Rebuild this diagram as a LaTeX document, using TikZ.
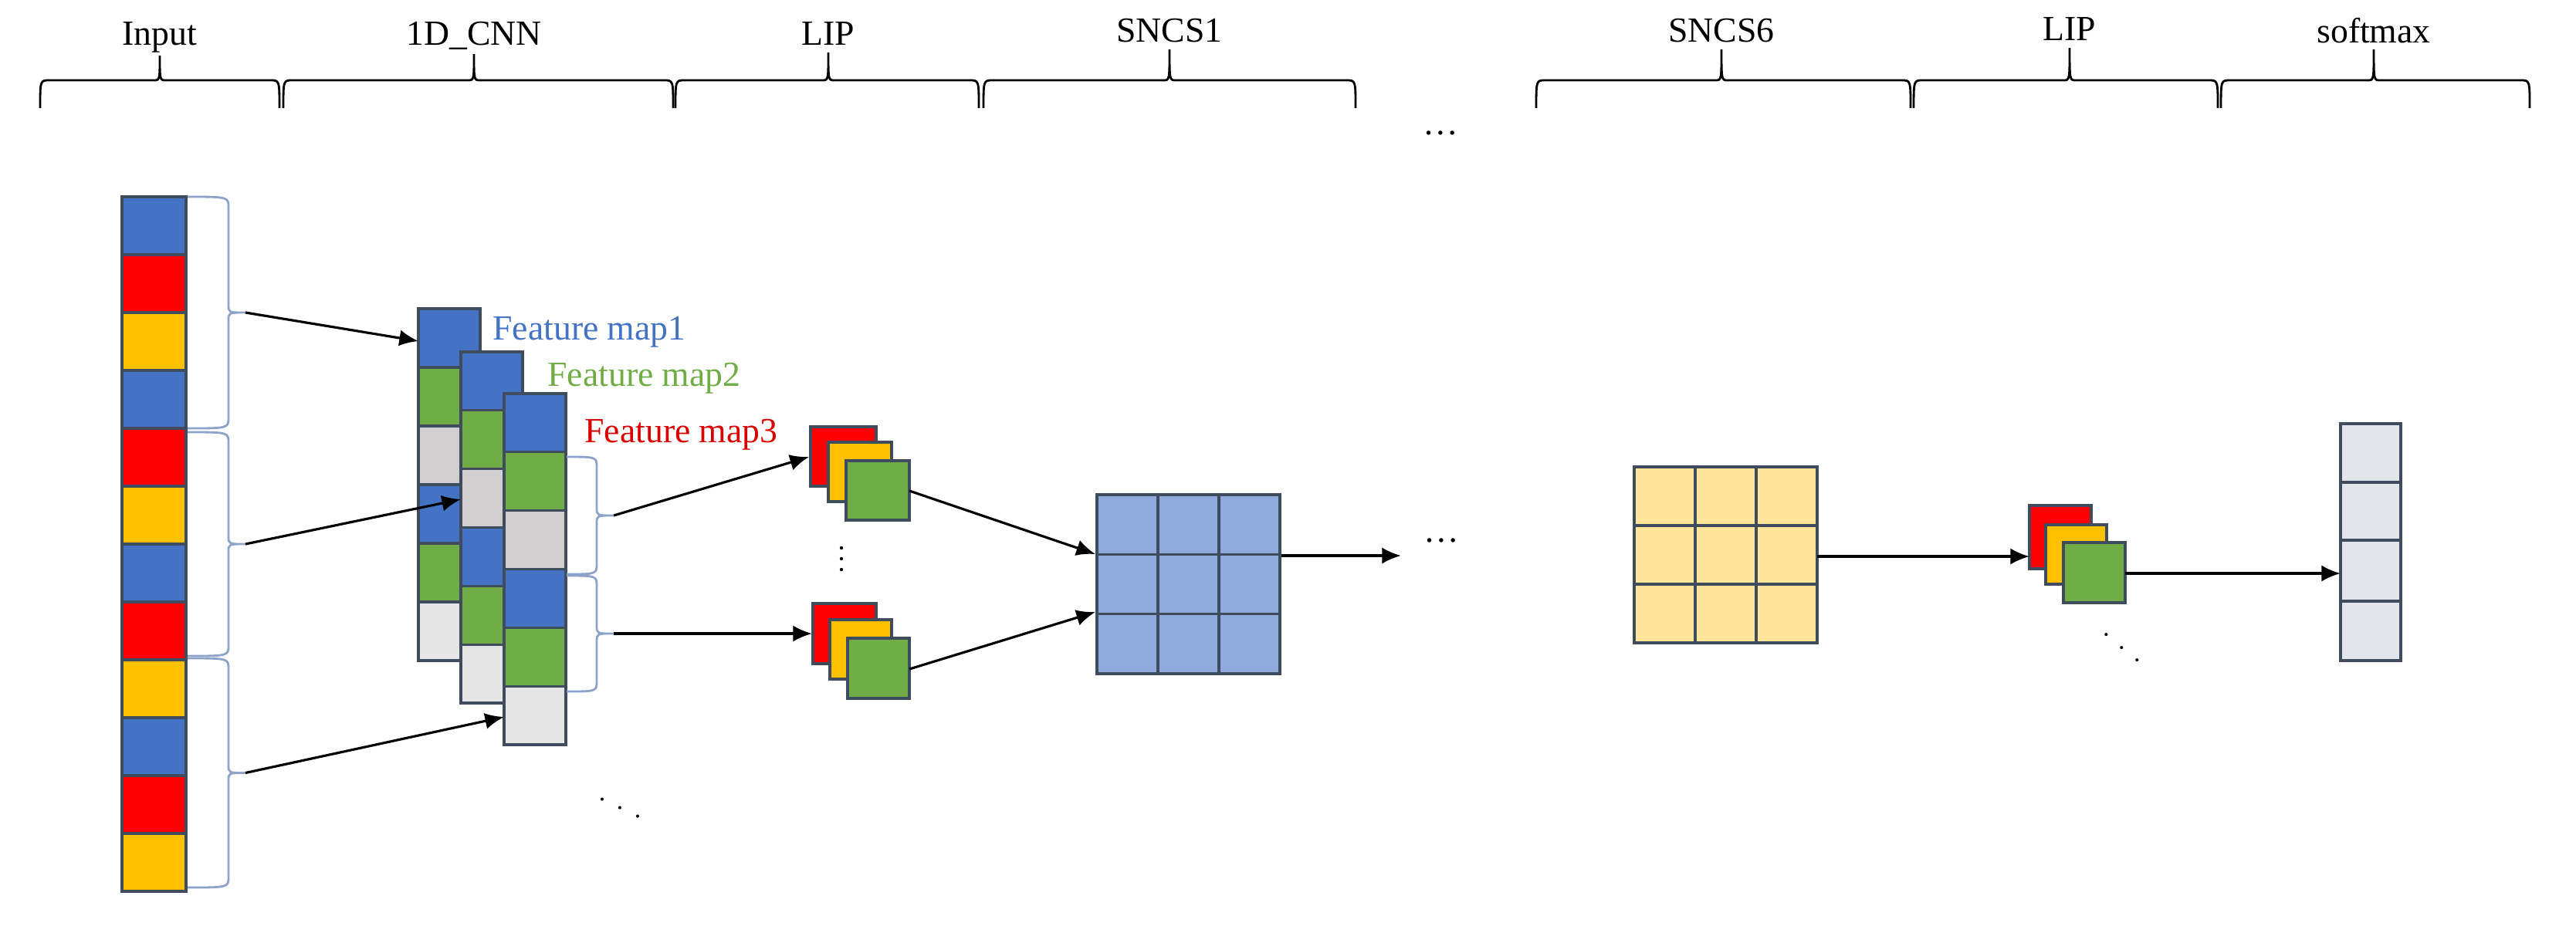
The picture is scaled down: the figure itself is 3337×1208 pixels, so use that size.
\documentclass[tikz,border=0pt]{standalone}
\usepackage{fontspec}
\setmainfont{Liberation Serif}
\usetikzlibrary{arrows.meta}
\definecolor{cb}{HTML}{4472C4}
\definecolor{cr}{HTML}{FF0000}
\definecolor{cy}{HTML}{FFC000}
\definecolor{cg}{HTML}{70AD47}
\definecolor{cgr}{HTML}{D0CECE}
\definecolor{clg}{HTML}{E7E6E6}
\definecolor{cgb}{HTML}{8FAADC}
\definecolor{cpy}{HTML}{FFE699}
\definecolor{csm}{HTML}{E3E5EC}
\definecolor{edge}{HTML}{3E4C5E}
\definecolor{brc}{HTML}{8EA3C8}
\tikzset{
 cell/.style={draw=edge,line width=0.9pt},
 arr/.style={-{Latex[length=7pt,width=6pt]},line width=0.9pt,black},
 tbr/.style={line width=0.8pt,black},
 sbr/.style={line width=0.8pt,brc},
 lab/.style={font=\fontsize{13}{13}\selectfont},
 fm/.style={font=\fontsize{13}{13}\selectfont,anchor=west},
 dots/.style={font=\fontsize{11}{11}\selectfont,inner sep=0pt},
}
\newcommand{\mytop}[5]{% x1 x2 tipx tipy label
 \draw[tbr] (#1,140) .. controls (#1,104) .. (#1+12,104) -- (#3-8,104) .. controls (#3,104) .. (#3,#4) .. controls (#3,104) .. (#3+8,104) -- (#2-12,104) .. controls (#2,104) .. (#2,140);
 \node[lab] at (#3,#4-24) {#5};}
\newcommand{\myside}[5]{% xleft xline y1 y2 tipname
 \draw[sbr] (#1,#3) .. controls (#2,#3) .. (#2,#3+14) -- (#2,{(#3+#4)/2-10}) .. controls (#2,{(#3+#4)/2}) .. (#2+22,{(#3+#4)/2}) .. controls (#2,{(#3+#4)/2}) .. (#2,{(#3+#4)/2+10}) -- (#2,#4-14) .. controls (#2,#4) .. (#1,#4);
 \coordinate (#5) at (#2+22,{(#3+#4)/2});}
\begin{document}
\begin{tikzpicture}[x=0.01cm,y=-0.01cm]
\useasboundingbox (0,0) rectangle (3337,1208);
% top braces
\mytop{52}{362}{207}{72}{Input}
\mytop{367}{872}{614}{70}{1D\_CNN}
\mytop{875}{1268}{1073}{68}{LIP}
\mytop{1274}{1756}{1515}{64}{SNCS1}
\mytop{1990}{2475}{2230}{64}{SNCS6}
\mytop{2479}{2873}{2681}{62}{LIP}
\mytop{2877}{3277}{3075}{64}{softmax}
\node[lab] (d0) at (1866,172) {\dots};
% input column
\foreach \c [count=\i from 0] in {cb,cr,cy,cb,cr,cy,cb,cr,cy,cb,cr,cy}
  \draw[cell,fill=\c] (158,255+75*\i) rectangle (241,330+75*\i);
% input braces
\myside{243}{296}{255}{555}{b1}
\myside{243}{296}{560}{850}{b2}
\myside{243}{296}{853}{1150}{b3}
% feature maps
\foreach \x/\t/\b [count=\k] in {542/400/856,597/456/911,653/510/965}{
  \pgfmathsetmacro{\h}{(\b-\t)/6}
  \foreach \c [count=\i from 0] in {cb,cg,cgr,cb,cg,clg}
    \draw[cell,fill=\c] (\x,\t+\h*\i) rectangle (\x+80,\t+\h*\i+\h);
}
\coordinate (f1) at (542,442);
\coordinate (f2) at (597,647);
\coordinate (f3) at (653,929);
\node[fm,text=cb] (t1) at (626,430) {Feature map1};
\node[fm,text=cg] (t2) at (697,490) {Feature map2};
\node[fm,text=cr!85!black] (t3) at (745,563) {Feature map3};
\draw[arr] (b1) -- (f1);
\draw[arr] (b2) -- (f2);
\draw[arr] (b3) -- (f3);
\node[dots,rotate=-25] (dd1) at (803,1048) {$\cdot\,\cdot\,\cdot$};
% FM3 braces
\myside{734}{773}{592}{744}{c1}
\myside{734}{773}{746}{896}{c2}
% LIP stacks
\draw[cell,fill=cr] (1050,553) rectangle (1135,630);
\draw[cell,fill=cy] (1073,573) rectangle (1155,650);
\draw[cell,fill=cg] (1096,597) rectangle (1178,674);
\draw[cell,fill=cr] (1053,782) rectangle (1135,860);
\draw[cell,fill=cy] (1075,803) rectangle (1155,880);
\draw[cell,fill=cg] (1098,827) rectangle (1178,905);
\coordinate (s1in) at (1048,592);
\coordinate (s2in) at (1052,821);
\coordinate (s1out) at (1178,636);
\coordinate (s2out) at (1178,867);
\draw[arr] (c1) -- (s1in);
\draw[arr] (c2) -- (s2in);
\foreach \yy in {710,724,738} \fill (1090,\yy) circle (2.2);
% blue grid
\foreach \i in {0,1,2} \foreach \j in {0,1,2}
  \draw[cell,fill=cgb] (1421+79*\i,641+77.3*\j) rectangle (1421+79*\i+79,641+77.3*\j+77.3);
\coordinate (g1) at (1419,718);
\coordinate (g2) at (1419,793);
\coordinate (gout) at (1660,720);
\coordinate (gend) at (1815,720);
\draw[arr] (s1out) -- (g1);
\draw[arr] (s2out) -- (g2);
\draw[arr] (gout) -- (gend);
\node[lab] (d1) at (1867,700) {\dots};
% yellow grid
\foreach \i in {0,1,2} \foreach \j in {0,1,2}
  \draw[cell,fill=cpy] (2117+79*\i,605+76*\j) rectangle (2117+79*\i+79,605+76*\j+76);
\coordinate (yout) at (2354,721);
% right LIP stack
\draw[cell,fill=cr] (2629,655) rectangle (2709,737);
\draw[cell,fill=cy] (2650,680) rectangle (2729,757);
\draw[cell,fill=cg] (2673,703) rectangle (2753,781);
\coordinate (rin) at (2629,721);
\coordinate (rout) at (2753,743);
\draw[arr] (yout) -- (rin);
\node[dots,rotate=-40] (dd2) at (2748,840) {$\cdot\,\cdot\,\cdot$};
% softmax column
\foreach \t/\b in {549/625,625/700,700/779,779/856}
  \draw[cell,fill=csm] (3032,\t) rectangle (3110,\b);
\coordinate (smin) at (3032,743);
\draw[arr] (rout) -- (smin);
\end{tikzpicture}
\end{document}
